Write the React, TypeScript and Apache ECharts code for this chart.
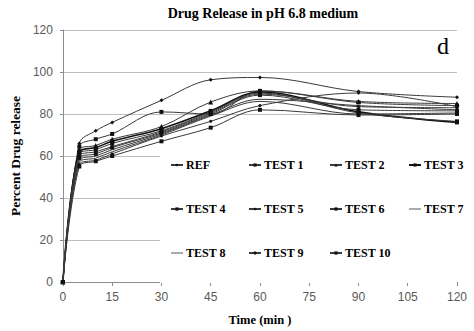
import React, { useEffect, useRef } from "react";
import * as echarts from "echarts";

const times = [0, 5, 10, 15, 30, 45, 60, 90, 120];
const xTicks = [0, 15, 30, 45, 60, 75, 90, 105, 120];
const yTicks = [0, 20, 40, 60, 80, 100, 120];

const seriesNames = ["REF", "TEST 1", "TEST 2", "TEST 3", "TEST 4", "TEST 5", "TEST 6", "TEST 7", "TEST 8", "TEST 9", "TEST 10"];
const ref = [0, 66, 72, 76, 86.5, 96.3, 97.4, 90.7, 88];
const test1 = [0, 64.5, 68, 70.5, 81, 80, 91, 85.5, 84];
const test2 = [0, 63, 65, 68, 74, 85.7, 91, 86, 85];
const test3 = [0, 62, 64, 67, 73, 81.5, 90.5, 81, 76];
const test4 = [0, 61, 63, 66, 72, 81, 90, 80.5, 76.5];
const test5 = [0, 60, 62, 64.5, 71.5, 80.5, 89.5, 83.5, 83];
const test6 = [0, 59, 61, 64, 71, 80, 89, 82, 81.5];
const test7 = [0, 58, 60, 63, 70.5, 79.5, 87, 84, 82];
const test8 = [0, 57, 59, 62, 70, 79, 86, 80, 80.5];
const test9 = [0, 56, 58, 61, 69.5, 76.5, 84, 90, 83.5];
const test10 = [0, 55, 57.5, 60, 67, 73.5, 82, 79.5, 80];

const allValues = [ref, test1, test2, test3, test4, test5, test6, test7, test8, test9, test10];
const symbols = ["diamond", "rect", "triangle", "rect", "rect", "diamond", "rect", "none", "none", "circle", "rect"];
const symbolSizes = [4, 4, 5, 4, 4, 4, 4, 0, 0, 3, 4];
const widths = [1, 1, 1, 1.6, 1, 1, 1, 1, 1, 1, 1];

const legendColumns = [
  ["REF", "TEST 4", "TEST 8"],
  ["TEST 1", "TEST 5", "TEST 9"],
  ["TEST 2", "TEST 6", "TEST 10"],
  ["TEST 3", "TEST 7"],
];
const legendLefts = [170, 248, 329, 408];

export default function App() {
  const divRef = useRef<HTMLDivElement>(null);
  useEffect(() => {
    if (!divRef.current) return;
    const chart = echarts.init(divRef.current, null, { renderer: "svg" });
    const serif = "'Liberation Serif', 'Times New Roman', serif";
    const sans = "'Liberation Sans', Arial, sans-serif";
    const lineIcon = "path://M0,0H24V1.4H0Z";
    chart.setOption({
      animation: false,
      backgroundColor: "#ffffff",
      title: {
        text: "Drug Release in pH 6.8 medium",
        left: 258,
        top: 1,
        textAlign: "center",
        textStyle: { fontFamily: serif, fontWeight: "bold", fontSize: 14, color: "#000" },
      },
      grid: { left: 47.5, right: 17, top: 30, bottom: 44.3 },
      legend: legendColumns.map((col, i) => ({
        data: col.map((n) => {
          const k = seriesNames.indexOf(n);
          return symbols[k] === "none" ? { name: n, icon: lineIcon } : { name: n };
        }),
        orient: "vertical",
        left: legendLefts[i],
        top: 158,
        itemWidth: 12,
        itemHeight: 4,
        itemGap: 30,
        padding: 0,
        z: 6,
        textStyle: { fontFamily: serif, fontWeight: "bold", fontSize: 12, color: "#000", lineHeight: 14, padding: [0, 0, 0, -2] },
      })),
      xAxis: {
        type: "value",
        min: 0,
        max: 120,
        interval: 15,
        name: "Time (min )",
        nameLocation: "middle",
        nameGap: 31,
        nameTextStyle: { fontFamily: serif, fontWeight: "bold", fontSize: 12.5, color: "#000" },
        axisLine: { show: true, lineStyle: { color: "#8c8c8c" } },
        axisTick: { show: true, length: 4, lineStyle: { color: "#8c8c8c" } },
        splitLine: { show: false },
        axisLabel: {
          fontFamily: sans,
          fontSize: 12,
          color: "#595959",
          margin: 9,
          formatter: (v: number) => (xTicks.includes(v) ? String(v) : ""),
        },
      },
      yAxis: {
        type: "value",
        min: 0,
        max: 120,
        interval: 20,
        name: "Percent Drug release",
        nameLocation: "middle",
        nameGap: 35,
        nameTextStyle: { fontFamily: serif, fontWeight: "bold", fontSize: 13.5, color: "#000" },
        axisLine: { show: true, lineStyle: { color: "#8c8c8c" } },
        axisTick: { show: true, length: 3, lineStyle: { color: "#8c8c8c" } },
        splitLine: { show: true, lineStyle: { color: "#bfbfbf", width: 1 } },
        axisLabel: {
          fontFamily: sans,
          fontSize: 12,
          color: "#595959",
          margin: 10,
          formatter: (v: number) => (yTicks.includes(v) ? String(v) : ""),
        },
      },
      graphic: [
        {
          type: "rect",
          z: 1,
          shape: { x: 160, y: 148, width: 297, height: 135 },
          style: { fill: "#ffffff" },
        },
        {
          type: "text",
          x: 437,
          y: 34,
          z: 10,
          style: { text: "d", fontFamily: serif, fontSize: 24, fill: "#000" },
        },
      ],
      series: seriesNames.map((name, i) => ({
        name,
        type: "line",
        smooth: 0.35,
        z: 3,
        data: times.map((t, j) => [t, allValues[i][j]]),
        symbol: symbols[i],
        symbolSize: symbolSizes[i] || 1,
        showSymbol: symbols[i] !== "none",
        lineStyle: { color: i === 3 ? "#111" : "#3a3a3a", width: widths[i] },
        itemStyle: { color: "#111" },
        emphasis: { disabled: true },
      })),
    });
    return () => chart.dispose();
  }, []);
  return <div ref={divRef} style={{ width: 474, height: 331, position: "absolute", left: 0, top: 0 }} />;
}
